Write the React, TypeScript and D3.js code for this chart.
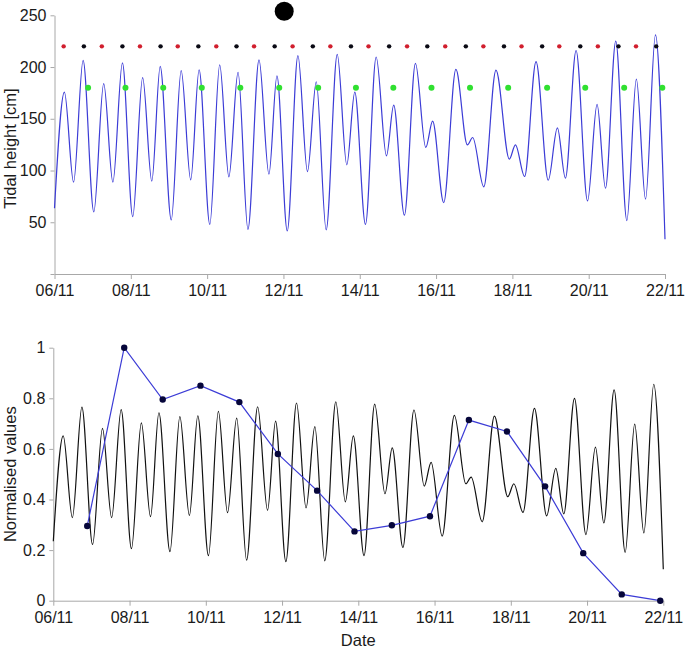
import React, { useRef, useEffect } from "react";
import * as d3 from "d3";

// tidal extrema, days after 06/11 00:00 and height in cm
const TIDE_DAYS = [
  0, 0.26, 0.5, 0.75, 1.03, 1.29, 1.53, 1.78, 2.05, 2.31, 2.55, 2.77, 3.06, 3.32, 3.57, 3.79,
  4.07, 4.33, 4.57, 4.81, 5.07, 5.36, 5.62, 5.83, 6.1, 6.38, 6.63, 6.86, 7.12, 7.41, 7.66, 7.87,
  8.15, 8.43, 8.7, 8.89, 9.17, 9.46, 9.73, 9.91, 10.2, 10.52, 10.82, 10.96, 11.25, 11.57, 11.92,
  12.08, 12.32, 12.62, 12.94, 13.18, 13.39, 13.67, 13.97, 14.22, 14.44, 14.71, 15.0, 15.25,
  15.49, 15.75, 16.0,
];
const TIDE_CM = [
  63.5, 175.8, 88.7, 206.5, 60, 184, 88.7, 204, 55.5, 189.7, 89.7, 200.6, 52.3, 196.5, 91, 197.4,
  48, 202, 93.9, 194.8, 43.2, 207, 96.5, 191.6, 41.6, 211, 99, 185.8, 42.6, 212.3, 105.5, 175.8,
  48, 209.7, 114.2, 163.2, 56.8, 203.5, 122.3, 147.7, 69, 197.7, 124.8, 131.9, 84.2, 197, 111,
  124.8, 94.2, 205.2, 90.6, 141.3, 92.6, 216, 70.6, 163.9, 82.9, 225, 51.6, 188.4, 72.3, 231, 33.5,
];
// height that maps to 1 on the normalised axis
const TIDE_NORM_CM = 270;

const RED_DAYS = [0.24, 1.24, 2.24, 3.23, 4.24, 5.23, 6.24, 7.23, 8.23, 9.24, 10.24, 11.24, 12.24, 13.23, 14.24, 15.24];
const BLACK_DAYS = [0.77, 1.78, 2.78, 3.77, 4.77, 5.77, 6.77, 7.77, 8.77, 9.77, 10.78, 11.78, 12.78, 13.78, 14.78, 15.77];
const DOT_ROW_CM = 220;
const GREEN_DAYS = [0.88, 1.86, 2.85, 3.86, 4.87, 5.89, 6.91, 7.9, 8.88, 9.88, 10.89, 11.89, 12.91, 13.91, 14.93, 15.93];
const GREEN_ROW_CM = 180;
const BIG_DOT = { day: 6.02, cm: 254 };

const NORM_DAYS = [0.89, 1.86, 2.87, 3.86, 4.88, 5.89, 6.92, 7.9, 8.88, 9.88, 10.9, 11.9, 12.9, 13.9, 14.91, 15.92];
const NORM_VALUES = [0.295, 1.0, 0.795, 0.85, 0.785, 0.58, 0.435, 0.274, 0.298, 0.334, 0.714, 0.669, 0.452, 0.188, 0.025, 0.0];

const X_TICK_DAYS = [0, 2, 4, 6, 8, 10, 12, 14, 16];
const X_TICK_LABELS = ["06/11", "08/11", "10/11", "12/11", "14/11", "16/11", "18/11", "20/11", "22/11"];
const TOP_Y_TICKS = [0, 50, 100, 150, 200, 250];
const BOTTOM_Y_TICKS = [0, 0.2, 0.4, 0.6, 0.8, 1];

const W = 685;
const H = 649;
const FONT = "'Liberation Sans', Arial, sans-serif";
const AXIS_COLOR = "#a8a8a8";
const LINE_BLUE = "#3c3cd6";

export default function App() {
  const svgRef = useRef<SVGSVGElement>(null);

  useEffect(() => {
    if (!svgRef.current) return;
    const svg = d3.select(svgRef.current);
    svg.selectAll("*").remove();

    const tide = TIDE_DAYS.map((d, i) => ({ day: d, v: TIDE_CM[i] }));
    const norm = NORM_DAYS.map((d, i) => ({ day: d, v: NORM_VALUES[i] }));

    const styleAxis = (g: d3.Selection<SVGGElement, unknown, null, undefined>) => {
      g.select(".domain").attr("stroke", AXIS_COLOR);
      g.selectAll(".tick line").attr("stroke", AXIS_COLOR);
      g.selectAll(".tick text")
        .attr("fill", "#1a1a1a")
        .attr("font-size", "16px")
        .attr("font-family", FONT);
    };

    // ---------- top panel ----------
    const xTop = d3.scaleLinear().domain([0, 16]).range([54.5, 665]);
    const yTop = d3.scaleLinear().domain([0, 250]).range([274, 15.3]);

    const top = svg.append("g");

    top.append("g")
      .attr("transform", `translate(0,${yTop(0)})`)
      .call(
        d3.axisBottom(xTop)
          .tickValues(X_TICK_DAYS)
          .tickFormat((_, i) => X_TICK_LABELS[i])
          .tickSize(5)
          .tickSizeOuter(0)
          .tickPadding(6)
      )
      .call(styleAxis);

    top.append("g")
      .attr("transform", `translate(${xTop(0)},0)`)
      .call(
        d3.axisLeft(yTop)
          .tickValues(TOP_Y_TICKS)
          .tickFormat((d) => (d === 0 ? "" : String(d)))
          .tickSize(4)
          .tickSizeOuter(0)
          .tickPadding(4)
      )
      .call(styleAxis);

    const tideLine = d3.line<{ day: number; v: number }>()
      .curve(d3.curveMonotoneX)
      .x((d) => xTop(d.day))
      .y((d) => yTop(d.v));

    top.append("path")
      .datum(tide)
      .attr("fill", "none")
      .attr("stroke", LINE_BLUE)
      .attr("stroke-width", 1.2)
      .attr("d", tideLine);

    top.selectAll(".red-dot")
      .data(RED_DAYS)
      .join("circle")
      .attr("cx", (d) => xTop(d))
      .attr("cy", yTop(DOT_ROW_CM))
      .attr("r", 2.2)
      .attr("fill", "#d11f2e");

    top.selectAll(".black-dot")
      .data(BLACK_DAYS)
      .join("circle")
      .attr("cx", (d) => xTop(d))
      .attr("cy", yTop(DOT_ROW_CM))
      .attr("r", 2.2)
      .attr("fill", "#0a0a14");

    top.selectAll(".green-dot")
      .data(GREEN_DAYS)
      .join("circle")
      .attr("cx", (d) => xTop(d))
      .attr("cy", yTop(GREEN_ROW_CM))
      .attr("r", 3)
      .attr("fill", "#30e030");

    top.append("circle")
      .attr("cx", xTop(BIG_DOT.day))
      .attr("cy", yTop(BIG_DOT.cm))
      .attr("r", 9.5)
      .attr("fill", "#000");

    top.append("text")
      .attr("transform", `translate(16,${(yTop(0) + yTop(250)) / 2 + 4}) rotate(-90)`)
      .attr("text-anchor", "middle")
      .attr("font-size", "16.5px")
      .attr("font-family", FONT)
      .attr("fill", "#1a1a1a")
      .text("Tidal height [cm]");

    // ---------- bottom panel ----------
    const xBot = d3.scaleLinear().domain([0, 16]).range([53.3, 663.3]);
    const yBot = d3.scaleLinear().domain([0, 1]).range([600.7, 347.7]);
    const yBotTide = d3.scaleLinear().domain([0, TIDE_NORM_CM]).range([600.7, 347.7]);

    const bot = svg.append("g");

    bot.append("g")
      .attr("transform", `translate(0,${yBot(0)})`)
      .call(
        d3.axisBottom(xBot)
          .tickValues(X_TICK_DAYS)
          .tickFormat((_, i) => X_TICK_LABELS[i])
          .tickSize(5)
          .tickSizeOuter(0)
          .tickPadding(6)
      )
      .call(styleAxis);

    bot.append("g")
      .attr("transform", `translate(${xBot(0)},0)`)
      .call(
        d3.axisLeft(yBot)
          .tickValues(BOTTOM_Y_TICKS)
          .tickFormat((d) => String(+d))
          .tickSize(4)
          .tickSizeOuter(0)
          .tickPadding(4)
      )
      .call(styleAxis);

    const normTideLine = d3.line<{ day: number; v: number }>()
      .curve(d3.curveMonotoneX)
      .x((d) => xBot(d.day))
      .y((d) => yBotTide(d.v));

    bot.append("path")
      .datum(tide)
      .attr("fill", "none")
      .attr("stroke", "#111")
      .attr("stroke-width", 1.2)
      .attr("d", normTideLine);

    const normLine = d3.line<{ day: number; v: number }>()
      .x((d) => xBot(d.day))
      .y((d) => yBot(d.v));

    bot.append("path")
      .datum(norm)
      .attr("fill", "none")
      .attr("stroke", LINE_BLUE)
      .attr("stroke-width", 1.2)
      .attr("d", normLine);

    bot.selectAll(".norm-dot")
      .data(norm)
      .join("circle")
      .attr("cx", (d) => xBot(d.day))
      .attr("cy", (d) => yBot(d.v))
      .attr("r", 3.2)
      .attr("fill", "#06063a");

    bot.append("text")
      .attr("transform", `translate(16,${(yBot(0) + yBot(1)) / 2}) rotate(-90)`)
      .attr("text-anchor", "middle")
      .attr("font-size", "16.5px")
      .attr("font-family", FONT)
      .attr("fill", "#1a1a1a")
      .text("Normalised values");

    bot.append("text")
      .attr("x", (xBot(0) + xBot(16)) / 2)
      .attr("y", 646)
      .attr("text-anchor", "middle")
      .attr("font-size", "16.5px")
      .attr("font-family", FONT)
      .attr("fill", "#1a1a1a")
      .text("Date");
  }, []);

  return (
    <svg
      ref={svgRef}
      width={W}
      height={H}
      style={{ position: "absolute", left: 0, top: 0, background: "#fff" }}
    />
  );
}
